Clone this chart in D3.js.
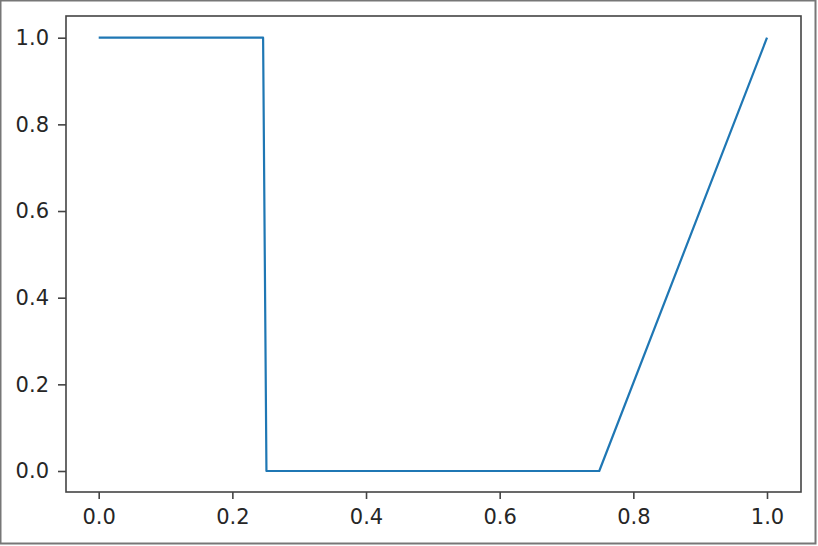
<!DOCTYPE html>
<html>
<head>
<meta charset="utf-8">
<script src="https://cdn.jsdelivr.net/npm/d3@7"></script>
<style>
  body { margin: 0; background: #fff; }
  text { font-family: "DejaVu Sans", sans-serif; }
</style>
</head>
<body>
<div id="chart"></div>
<script>
// piecewise curve
var xs = [0, 0.246, 0.251, 0.749, 1.0];
var ys = [1, 1, 0, 0, 1];
var xTicks = [0.0, 0.2, 0.4, 0.6, 0.8, 1.0];
var yTicks = [0.0, 0.2, 0.4, 0.6, 0.8, 1.0];

var W = 818, H = 546;
var box = { left: 66, top: 16, right: 801, bottom: 492 };

var svg = d3.select("#chart").append("svg")
    .attr("width", W)
    .attr("height", H);

// outer frame of the screenshot
svg.append("rect")
    .attr("x", 0.5).attr("y", 0.5)
    .attr("width", 815).attr("height", 543)
    .attr("fill", "none")
    .attr("stroke", "#777")
    .attr("stroke-width", 2);

var x = d3.scaleLinear().domain([0, 1]).range([98.7, 767]);
var y = d3.scaleLinear().domain([0, 1]).range([471, 37.7]);

var fmt = d3.format(".1f");

var xAxis = svg.append("g")
    .attr("transform", "translate(0," + box.bottom + ")")
    .call(d3.axisBottom(x).tickValues(xTicks).tickFormat(fmt).tickSize(7).tickPadding(10));

var yAxis = svg.append("g")
    .attr("transform", "translate(" + box.left + ",0)")
    .call(d3.axisLeft(y).tickValues(yTicks).tickFormat(fmt).tickSize(8).tickPadding(9));

[xAxis, yAxis].forEach(function (g) {
  g.select(".domain").remove();
  g.selectAll(".tick line").attr("stroke", "#444").attr("stroke-width", 1.6);
  g.selectAll(".tick text")
      .attr("fill", "#262626")
      .style("font-size", "21px")
      .style("font-family", "DejaVu Sans, sans-serif");
});

// the data line
var line = d3.line()
    .x(function (d, i) { return x(xs[i]); })
    .y(function (d, i) { return y(ys[i]); });

svg.append("path")
    .datum(xs)
    .attr("d", line)
    .attr("fill", "none")
    .attr("stroke", "#1f77b4")
    .attr("stroke-width", 2.2)
    .attr("stroke-linejoin", "round");

// spines
svg.append("rect")
    .attr("x", box.left).attr("y", box.top)
    .attr("width", box.right - box.left)
    .attr("height", box.bottom - box.top)
    .attr("fill", "none")
    .attr("stroke", "#444")
    .attr("stroke-width", 1.6);
</script>
</body>
</html>
